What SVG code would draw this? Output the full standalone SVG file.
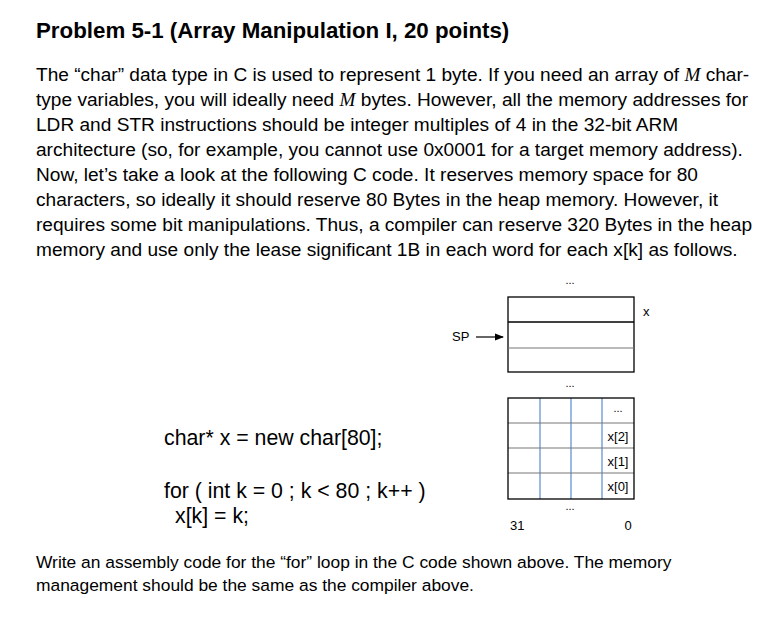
<svg xmlns="http://www.w3.org/2000/svg" width="781" height="627" viewBox="0 0 781 627">
<style>
text{font-family:"Liberation Sans",Arial,sans-serif;fill:#000}
.p{font-size:19.1px}
.c{font-size:21.3px}
.s{font-size:13px}
.d{font-size:11px}
.b{fill:none;stroke:#000;stroke-width:1.3}
.g{stroke:#777;stroke-width:1}
.bl{stroke:#5b8bd0;stroke-width:1.2}
.m{font-family:"Liberation Serif",serif;font-style:italic}
</style>
<defs><marker id="ar" markerWidth="8" markerHeight="6" refX="7" refY="3" orient="auto"><path d="M0,0L8,3L0,6z" fill="#000"/></marker></defs>
<rect width="781" height="627" fill="#fff"/>
<text x="36" y="38" font-size="22.3" font-weight="bold">Problem 5-1 (Array Manipulation I, 20 points)</text>
<text class="p" x="36" y="81">The “char” data type in C is used to represent 1 byte. If you need an array of <tspan class="m">M</tspan> char-</text>
<text class="p" x="36" y="106">type variables, you will ideally need <tspan class="m">M</tspan> bytes. However, all the memory addresses for</text>
<text class="p" x="36" y="131">LDR and STR instructions should be integer multiples of 4 in the 32-bit ARM</text>
<text class="p" x="36" y="156">architecture (so, for example, you cannot use 0x0001 for a target memory address).</text>
<text class="p" x="36" y="181">Now, let’s take a look at the following C code. It reserves memory space for 80</text>
<text class="p" x="36" y="206">characters, so ideally it should reserve 80 Bytes in the heap memory. However, it</text>
<text class="p" x="36" y="231">requires some bit manipulations. Thus, a compiler can reserve 320 Bytes in the heap</text>
<text class="p" x="36" y="256">memory and use only the lease significant 1B in each word for each x[k] as follows.</text>
<g id="code">
<text class="c" x="164" y="445">char* x = new char[80];</text>
<text class="c" x="164" y="498">for ( int k = 0 ; k &lt; 80 ; k++ )</text>
<text class="c" x="175" y="523">x[k] = k;</text>
</g>
<g id="stack">
<text class="d" x="570" y="284" text-anchor="middle">...</text>
<rect class="b" x="508" y="297" width="126" height="75"/>
<line x1="508" y1="322" x2="634" y2="322" stroke="#000" stroke-width="1.3"/>
<line class="g" x1="508" y1="348" x2="634" y2="348"/>
<text class="s" x="643" y="316">x</text>
<text class="s" x="452" y="341">SP</text>
</g>
<g id="connectors">
<line x1="476" y1="337" x2="503" y2="337" stroke="#000" stroke-width="1.2" marker-end="url(#ar)"/>
</g>
<g id="heap">
<text class="d" x="570" y="387" text-anchor="middle">...</text>
<line class="bl" x1="540" y1="398" x2="540" y2="499"/>
<line class="bl" x1="571" y1="398" x2="571" y2="499"/>
<line class="bl" x1="602" y1="398" x2="602" y2="499"/>
<line class="g" x1="508" y1="423" x2="634" y2="423"/>
<line class="g" x1="508" y1="448" x2="634" y2="448"/>
<line class="g" x1="508" y1="473" x2="634" y2="473"/>
<rect class="b" x="508" y="398" width="126" height="101"/>
<text class="d" x="618" y="412" text-anchor="middle" fill="#555">...</text>
<text class="s" x="618" y="441" text-anchor="middle">x[2]</text>
<text class="s" x="618" y="466" text-anchor="middle">x[1]</text>
<text class="s" x="618" y="491" text-anchor="middle">x[0]</text>
<text class="d" x="570" y="510" text-anchor="middle">...</text>
<text class="s" x="510" y="530">31</text>
<text class="s" x="628" y="530" text-anchor="middle">0</text>
</g>
<text x="36" y="568" font-size="17.4">Write an assembly code for the “for” loop in the C code shown above. The memory</text>
<text x="36" y="591" font-size="17.4">management should be the same as the compiler above.</text>
</svg>
